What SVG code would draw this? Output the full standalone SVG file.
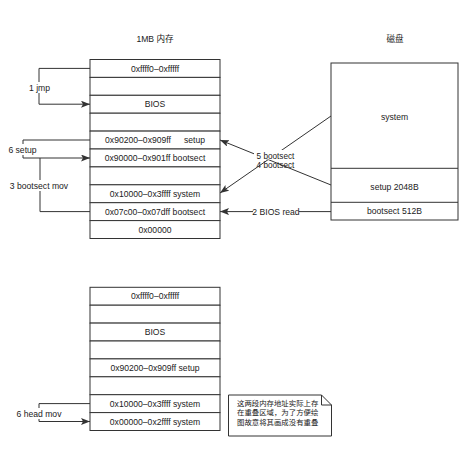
<svg xmlns="http://www.w3.org/2000/svg" width="474" height="449" viewBox="0 0 474 449">
<style>
.box{fill:#fff;stroke:#333;stroke-width:1}
.t{font-family:"Liberation Sans","Noto Sans CJK SC",sans-serif;font-size:8.6px;fill:#222;text-anchor:middle}
.s{font-size:8.2px}
.n{font-family:"Noto Sans CJK SC",sans-serif;font-size:7.4px;fill:#222}
.ln{fill:none;stroke:#333;stroke-width:1}
.bg{fill:#fff}
</style>
<defs>
<marker id="ah" markerUnits="userSpaceOnUse" markerWidth="10" markerHeight="8" refX="9" refY="3.5" orient="auto">
<path d="M0,0 L9,3.5 L0,7 L2,3.5 Z" fill="#333"/>
</marker>
</defs>
<rect width="474" height="449" fill="#fff"/>
<text class="t" x="155" y="42">1MB 内存</text>
<text class="t" x="395" y="42">磁盘</text>
<g id="mem1">
<rect class="box" x="90" y="59.5" width="130" height="17.9"/>
<rect class="box" x="90" y="77.4" width="130" height="17.9"/>
<rect class="box" x="90" y="95.3" width="130" height="17.9"/>
<rect class="box" x="90" y="113.2" width="130" height="17.9"/>
<rect class="box" x="90" y="131.1" width="130" height="17.9"/>
<rect class="box" x="90" y="149" width="130" height="17.9"/>
<rect class="box" x="90" y="166.9" width="130" height="17.9"/>
<rect class="box" x="90" y="184.8" width="130" height="17.9"/>
<rect class="box" x="90" y="202.7" width="130" height="17.9"/>
<rect class="box" x="90" y="220.6" width="130" height="17.9"/>
<text class="t" x="155" y="71.5">0xffff0–0xfffff</text>
<text class="t" x="155" y="107.3">BIOS</text>
<text class="t" x="155" y="143.1"><tspan x="138">0x90200–0x909ff</tspan><tspan x="194.5">setup</tspan></text>
<text class="t" x="155" y="161">0x90000–0x901ff bootsect</text>
<text class="t" x="155" y="196.8">0x10000–0x3ffff system</text>
<text class="t" x="155" y="214.7">0x07c00–0x07dff bootsect</text>
<text class="t" x="155" y="232.6">0x00000</text>
</g>
<g id="disk">
<rect class="box" x="331" y="63" width="127" height="157"/>
<line class="ln" x1="331" y1="168.3" x2="458" y2="168.3"/>
<line class="ln" x1="331" y1="202.3" x2="458" y2="202.3"/>
<text class="t" x="394.5" y="120">system</text>
<text class="t" x="394.5" y="189.5">setup 2048B</text>
<text class="t" x="394.5" y="214">bootsect 512B</text>
</g>
<g id="mem2">
<rect class="box" x="90" y="287.3" width="130" height="17.9"/>
<rect class="box" x="90" y="305.2" width="130" height="17.9"/>
<rect class="box" x="90" y="323.1" width="130" height="17.9"/>
<rect class="box" x="90" y="341" width="130" height="17.9"/>
<rect class="box" x="90" y="358.9" width="130" height="17.9"/>
<rect class="box" x="90" y="376.8" width="130" height="17.9"/>
<rect class="box" x="90" y="394.7" width="130" height="17.9"/>
<rect class="box" x="90" y="412.6" width="130" height="17.9"/>
<text class="t" x="155" y="299.3">0xffff0–0xfffff</text>
<text class="t" x="155" y="335.1">BIOS</text>
<text class="t" x="155" y="370.9">0x90200–0x909ff setup</text>
<text class="t" x="155" y="406.7">0x10000–0x3ffff system</text>
<text class="t" x="155" y="424.6">0x00000–0x2ffff system</text>
</g>
<g id="note">
<path class="box" d="M228.5,395 H321.5 L331.5,405 V436 H228.5 Z"/>
<path class="ln" d="M321.5,395 V405 H331.5"/>
<text class="n" x="237" y="405.5">这两段内存地址实际上存</text>
<text class="n" x="237" y="415">在重叠区域，为了方便绘</text>
<text class="n" x="237" y="424.5">图故意将其画成没有重叠</text>
</g>
<g id="connectors">
<path class="ln" d="M90,68.4 H39 V104.2 H90" marker-end="url(#ah)"/>
<path class="ln" d="M90,140 H23 V158 H90" marker-end="url(#ah)"/>
<path class="ln" d="M90,211.6 H40 V158"/>
<path class="ln" d="M331,211.6 H220" marker-end="url(#ah)"/>
<path class="ln" d="M331,116 L220,193" marker-end="url(#ah)"/>
<path class="ln" d="M331,185 L220,140" marker-end="url(#ah)"/>
<path class="ln" d="M90,403.6 H39 V421.5 H90" marker-end="url(#ah)"/>
<rect class="bg" x="28" y="82" width="23" height="11"/>
<text class="t" x="39.5" y="91">1 jmp</text>
<rect class="bg" x="7" y="144" width="31" height="11"/>
<text class="t" x="22.5" y="153">6 setup</text>
<rect class="bg" x="7" y="180" width="64" height="11"/>
<text class="t" x="39" y="189">3 bootsect mov</text>
<rect class="bg" x="253" y="206" width="46" height="11"/>
<text class="t" x="276" y="215">2 BIOS read</text>
<rect class="bg" x="254" y="150" width="43" height="9.5"/>
<text class="t s" x="275.5" y="158.5">5 bootsect</text>
<text class="t s" x="275.5" y="167.5">4 bootsect</text>
<rect class="bg" x="16" y="408" width="46" height="11"/>
<text class="t" x="39" y="417">6 head mov</text>
</g>
</svg>
